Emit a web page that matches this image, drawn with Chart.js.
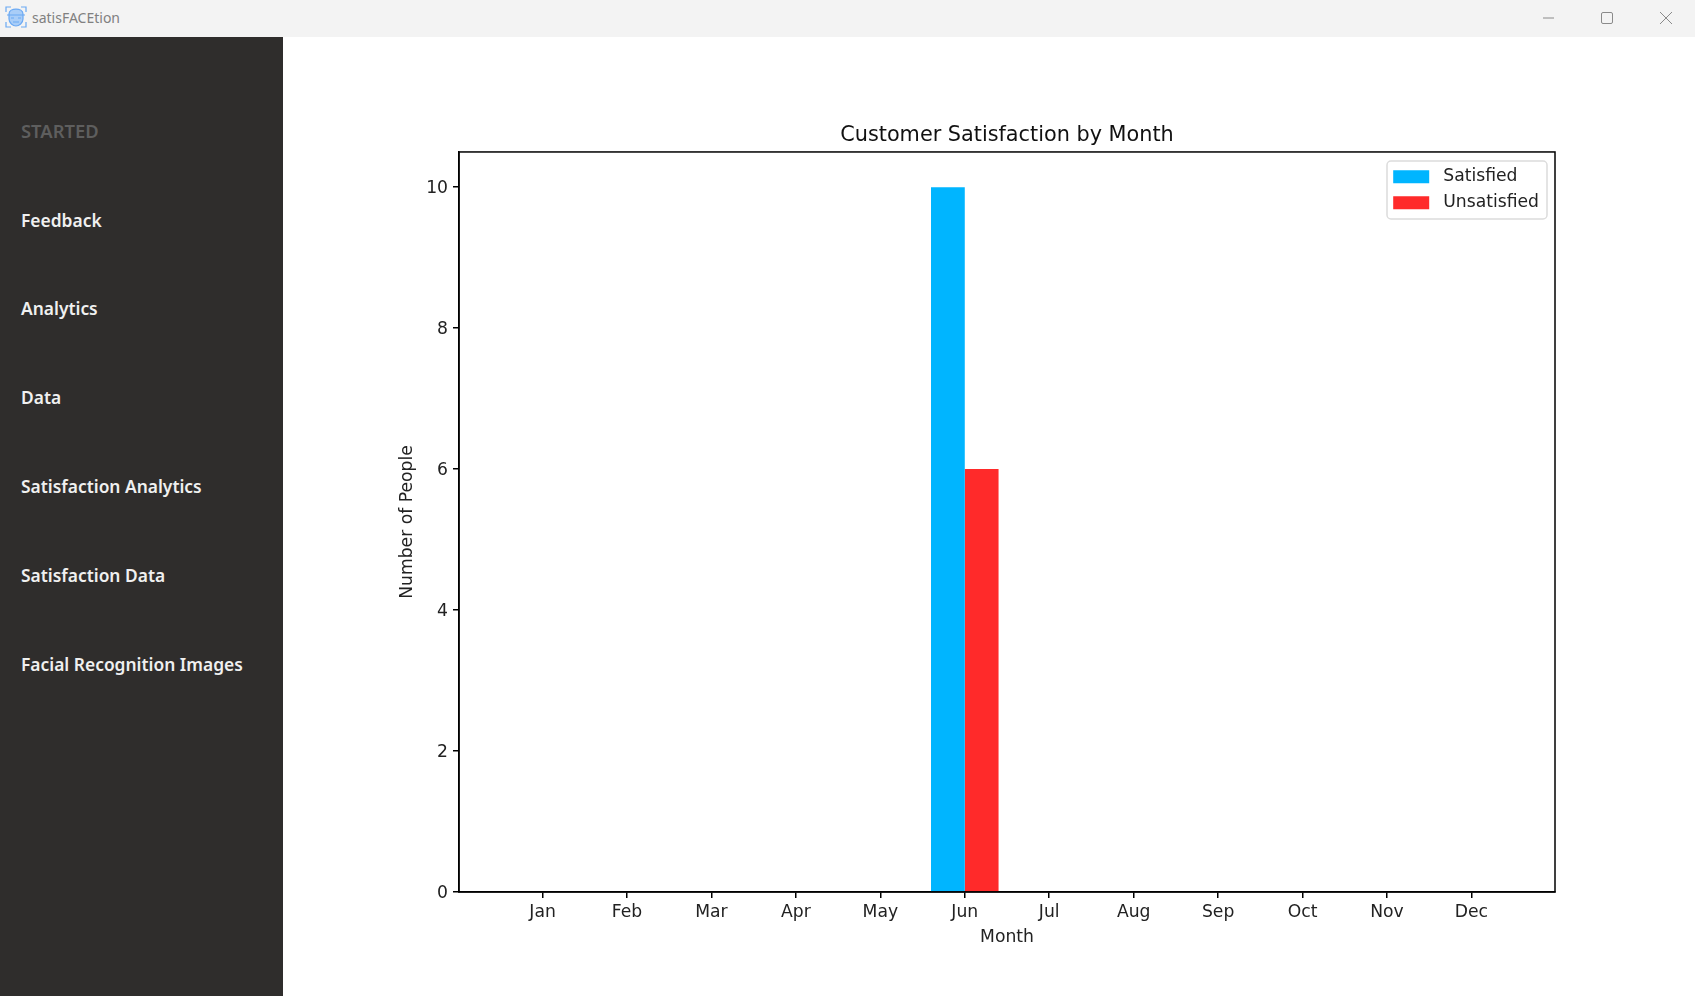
<!DOCTYPE html>
<html>
<head>
<meta charset="utf-8">
<title>satisFACEtion</title>
<script src="https://cdn.jsdelivr.net/npm/chart.js@4/dist/chart.umd.min.js"></script>
<style>
html, body { margin: 0; padding: 0; width: 1695px; height: 996px; overflow: hidden; background: #fff; }
#titlebar { position: absolute; left: 0; top: 0; width: 1695px; height: 37px; background: #f3f3f3; }
#apptitle { position: absolute; left: 32px; top: 8px; font: 14px/20px "Noto Sans", sans-serif; color: #808080; }
#appicon { position: absolute; left: 5px; top: 6px; }
#wincontrols { position: absolute; left: 1536px; top: 8px; }
#sidebar { position: absolute; left: 0; top: 37px; width: 283px; height: 959px; background: #2f2d2c; }
#sidebar div { position: absolute; left: 21px; font: 600 17.4px/24px "Noto Sans", sans-serif; color: #f0f0f0; white-space: nowrap; }
#sidebar div.off { color: #5e5e5e; font-size: 18.4px; }
#wrap { position: absolute; left: 283px; top: 37px; }
</style>
</head>
<body>
<div id="titlebar">
  <svg id="appicon" width="22" height="22" viewBox="0 0 22 22" fill="none" stroke="#6aa9f4" stroke-width="1.2">
    <path d="M1 6V1H6M16 1H21V6M1 16V21H6M16 21H21V16"/>
    <path d="M4 8C4 1.5 18 1.5 18 8V13C18 17 14 20 11 20C8 20 4 17 4 13Z" fill="#a9cdf7"/>
    <path d="M2 9H20M6 12H9M13 12H16M8 16H14"/>
  </svg>
  <span id="apptitle">satisFACEtion</span>
  <svg id="wincontrols" width="150" height="20" fill="none" stroke="#8a8a8a" stroke-width="1">
    <path d="M7 10H18"/>
    <rect x="65.5" y="4.5" width="11" height="11" rx="1.5"/>
    <path d="M124 4L136 16M136 4L124 16"/>
  </svg>
</div>
<div id="sidebar">
  <div class="off" style="top:82px">STARTED</div>
  <div style="top:171px">Feedback</div>
  <div style="top:259px">Analytics</div>
  <div style="top:348px">Data</div>
  <div style="top:437px">Satisfaction Analytics</div>
  <div style="top:526px">Satisfaction Data</div>
  <div style="top:615px">Facial Recognition Images</div>
</div>
<div id="wrap"><canvas id="grafico" width="1412" height="959"></canvas></div>

<script>
var months = ["Jan","Feb","Mar","Apr","May","Jun","Jul","Aug","Sep","Oct","Nov","Dec"];
var satisfied = [0,0,0,0,0,10,0,0,0,0,0,0];
var unsatisfied = [0,0,0,0,0,6,0,0,0,0,0,0];
var yTicks = [0,2,4,6,8,10];

var fontFam = '"DejaVu Sans"';
var tickFont = { family: fontFam, size: 17.2, lineHeight: 1.2 };

function points(values) {
    return values.map(function(v, i) { return { x: i, y: v }; });
}

// matplotlib style box around the plot plus the legend frame
var framePlugin = {
    id: 'frame',
    afterLayout: function(chart) {
        chart.legend.left = 1101.5;
        chart.legend.top = 122.5;
    },
    afterDraw: function(chart) {
        var a = chart.chartArea, ctx = chart.ctx;
        ctx.save();
        ctx.strokeStyle = '#000';
        ctx.lineWidth = 1.5;
        ctx.strokeRect(a.left, a.top, a.right - a.left, a.bottom - a.top);
        ctx.strokeStyle = '#dcdcdc';
        ctx.lineWidth = 1.5;
        ctx.beginPath();
        ctx.roundRect(1104, 124, 160, 58, 4);
        ctx.stroke();
        ctx.restore();
    }
};

var grafico = new Chart(document.getElementById("grafico").getContext("2d"), {
    type: 'bar',
    plugins: [framePlugin],
    data: {
        datasets: [
            { label: "Satisfied", data: points(satisfied), backgroundColor: '#00b5ff', categoryPercentage: 0.8, barPercentage: 1 },
            { label: "Unsatisfied", data: points(unsatisfied), backgroundColor: '#ff2a2a', categoryPercentage: 0.8, barPercentage: 1 }
        ]
    },
    options: {
        responsive: false,
        animation: false,
        devicePixelRatio: 1,
        layout: { padding: { left: 114, right: 140, top: 86, bottom: 48 } },
        plugins: {
            title: {
                display: true,
                fullSize: false,
                text: "Customer Satisfaction by Month",
                color: '#111',
                font: { family: fontFam, size: 20.8, weight: 'normal', lineHeight: 1.2 },
                padding: { top: 0, bottom: 4 }
            },
            legend: {
                position: 'chartArea',
                align: 'start',
                labels: {
                    boxWidth: 36,
                    boxHeight: 13,
                    padding: 8.7,
                    color: '#222',
                    font: tickFont,
                    generateLabels: function(chart) {
                        return Chart.defaults.plugins.legend.labels.generateLabels(chart).map(function(it) {
                            it.text = ' ' + it.text;
                            it.lineWidth = 0;
                            return it;
                        });
                    }
                }
            },
            tooltip: { enabled: false }
        },
        scales: {
            x: {
                type: 'linear',
                offset: false,
                min: -0.99,
                max: 11.99,
                afterFit: function(scale) { scale.height = 56; },
                afterBuildTicks: function(scale) {
                    scale.ticks = months.map(function(m, i) { return { value: i }; });
                },
                grid: { offset: false, drawOnChartArea: false, color: '#000', lineWidth: 1.5, tickLength: 6, tickColor: '#000' },
                border: { color: '#000', width: 1.5 },
                ticks: {
                    color: '#222', font: tickFont, padding: 4, autoSkip: false, maxRotation: 0,
                    callback: function(v) { return months[v]; }
                },
                title: { display: true, text: "Month", color: '#222', font: tickFont, padding: 0 }
            },
            y: {
                min: 0,
                max: 10.5,
                afterFit: function(scale) { scale.width = 62; },
                afterBuildTicks: function(scale) {
                    scale.ticks = yTicks.map(function(v) { return { value: v }; });
                },
                grid: { drawOnChartArea: false, color: '#000', lineWidth: 1.5, tickLength: 6, tickColor: '#000' },
                border: { color: '#000', width: 1.5 },
                ticks: { color: '#222', font: tickFont, padding: 5, labelOffset: 1.5 },
                title: { display: true, text: "Number of People", color: '#222', font: tickFont, padding: 0 }
            }
        }
    }
});
</script>
</body>
</html>
